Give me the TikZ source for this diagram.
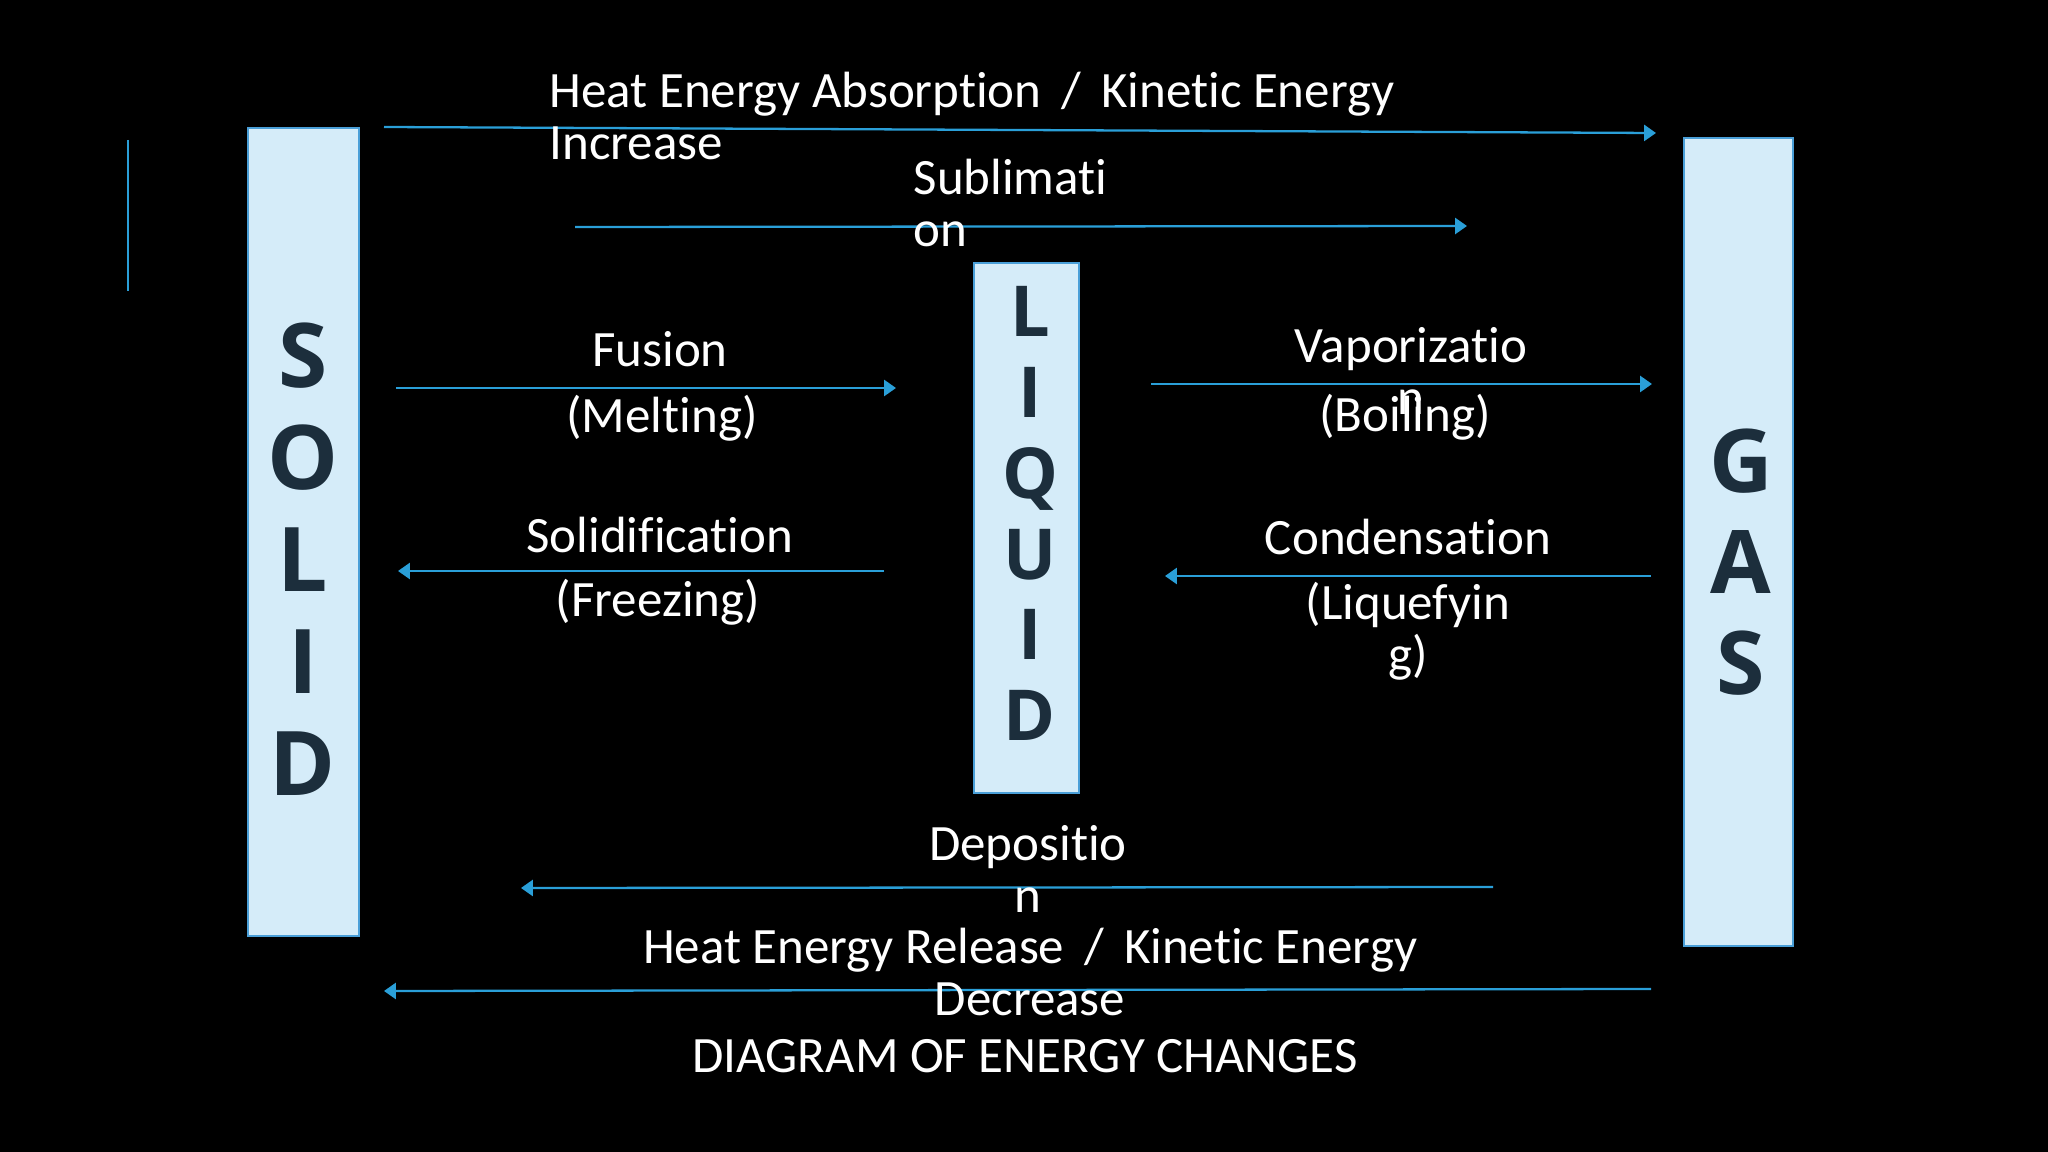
\documentclass[tikz,border=0pt]{standalone}
\usepackage{fontspec}
\setmainfont{Carlito}[Ligatures=NoCommon]
\newfontfamily\phasefont{Open Sans}
\usetikzlibrary{arrows.meta}
\definecolor{boxfill}{HTML}{D5ECF9}
\definecolor{boxedge}{HTML}{4A9FD8}
\definecolor{letterclr}{HTML}{1C2E3C}
\definecolor{flowclr}{HTML}{2A9FD8}
\tikzset{>/.tip={Triangle[length=3.4pt,width=4.6pt]},
  phasebox/.style={draw=boxedge, fill=boxfill, line width=0.8pt, inner sep=0pt},
  phasetxt/.style={align=center, inner sep=0pt, text=letterclr},
  lbl/.style={align=center, inner sep=0pt, text=white, font=\fontsize{14.5}{14.8}\selectfont},
  flow/.style={->, draw=flowclr, line width=0.65pt}}

\begin{document}
\begin{tikzpicture}[y=-1cm]
\useasboundingbox[fill=black] (0,0) rectangle (20.48,11.52);

\node[phasebox, minimum width=1.11cm, minimum height=8.08cm] (solid) at (3.035,5.32) {};
\node[phasebox, minimum width=1.05cm, minimum height=5.30cm] (liquid) at (10.265,5.28) {};
\node[phasebox, minimum width=1.09cm, minimum height=8.08cm] (gas) at (17.385,5.42) {};
\node[phasetxt, font=\phasefont\bfseries\fontsize{25.4}{29}\selectfont] (solidtxt) at (3.03,5.595) {S\\O\\L\\I\\D};
\node[phasetxt, font=\phasefont\bfseries\fontsize{20}{23}\selectfont] (liquidtxt) at (10.30,5.135) {L\\I\\Q\\U\\I\\D};
\node[phasetxt, font=\phasefont\bfseries\fontsize{25}{28.7}\selectfont] (gastxt) at (17.41,5.62) {G\\A\\S};

\coordinate (topL) at (3.84,1.27);   \coordinate (topR) at (16.56,1.33);
\coordinate (sublL) at (5.75,2.27);  \coordinate (sublR) at (14.67,2.26);
\coordinate (fusL) at (3.96,3.88);   \coordinate (fusR) at (8.96,3.88);
\coordinate (frzR) at (8.84,5.71);   \coordinate (frzL) at (3.98,5.71);
\coordinate (vapL) at (11.51,3.84);  \coordinate (vapR) at (16.52,3.84);
\coordinate (conR) at (16.51,5.76);  \coordinate (conL) at (11.65,5.76);
\coordinate (depR) at (14.93,8.87);  \coordinate (depL) at (5.21,8.88);
\coordinate (botR) at (16.51,9.89);  \coordinate (botL) at (3.84,9.91);
\coordinate (markT) at (1.28,1.40);  \coordinate (markB) at (1.28,2.91);

\draw[flow] (topL) -- (topR);
\draw[flow] (sublL) -- (sublR);
\draw[flow] (fusL) -- (fusR);
\draw[flow] (frzR) -- (frzL);
\draw[flow] (vapL) -- (vapR);
\draw[flow] (conR) -- (conL);
\draw[flow] (depR) -- (depL);
\draw[flow] (botR) -- (botL);
\draw[flow, -] (markT) -- (markB);

\node[lbl, anchor=west, align=left] (heatin) at (5.49,1.16) {Heat Energy Absorption \,/\, Kinetic Energy\\Increase};
\node[lbl, anchor=west, align=left] (subl) at (9.13,2.03) {Sublimati\\on};
\node[lbl] (fus) at (6.60,3.49) {Fusion};
\node[lbl] (melt) at (6.62,4.18) {(Melting)};
\node[lbl] (sol) at (6.60,5.35) {Solidification};
\node[lbl] (frz) at (6.58,6.02) {(Freezing)};
\node[lbl] (vap) at (14.11,3.71) {Vaporizatio\\n};
\node[lbl] (boil) at (14.05,4.17) {(Boiling)};
\node[lbl] (con) at (14.08,5.37) {Condensation};
\node[lbl] (liq) at (14.08,6.31) {(Liquefyin\\g)};
\node[lbl] (dep) at (10.28,8.69) {Depositio\\n};
\node[lbl] (heatout) at (10.30,9.72) {Heat Energy Release \,/\, Kinetic Energy\\Decrease};
\node[lbl] (title) at (10.25,10.56) {DIAGRAM OF ENERGY CHANGES};
\end{tikzpicture}
\end{document}
